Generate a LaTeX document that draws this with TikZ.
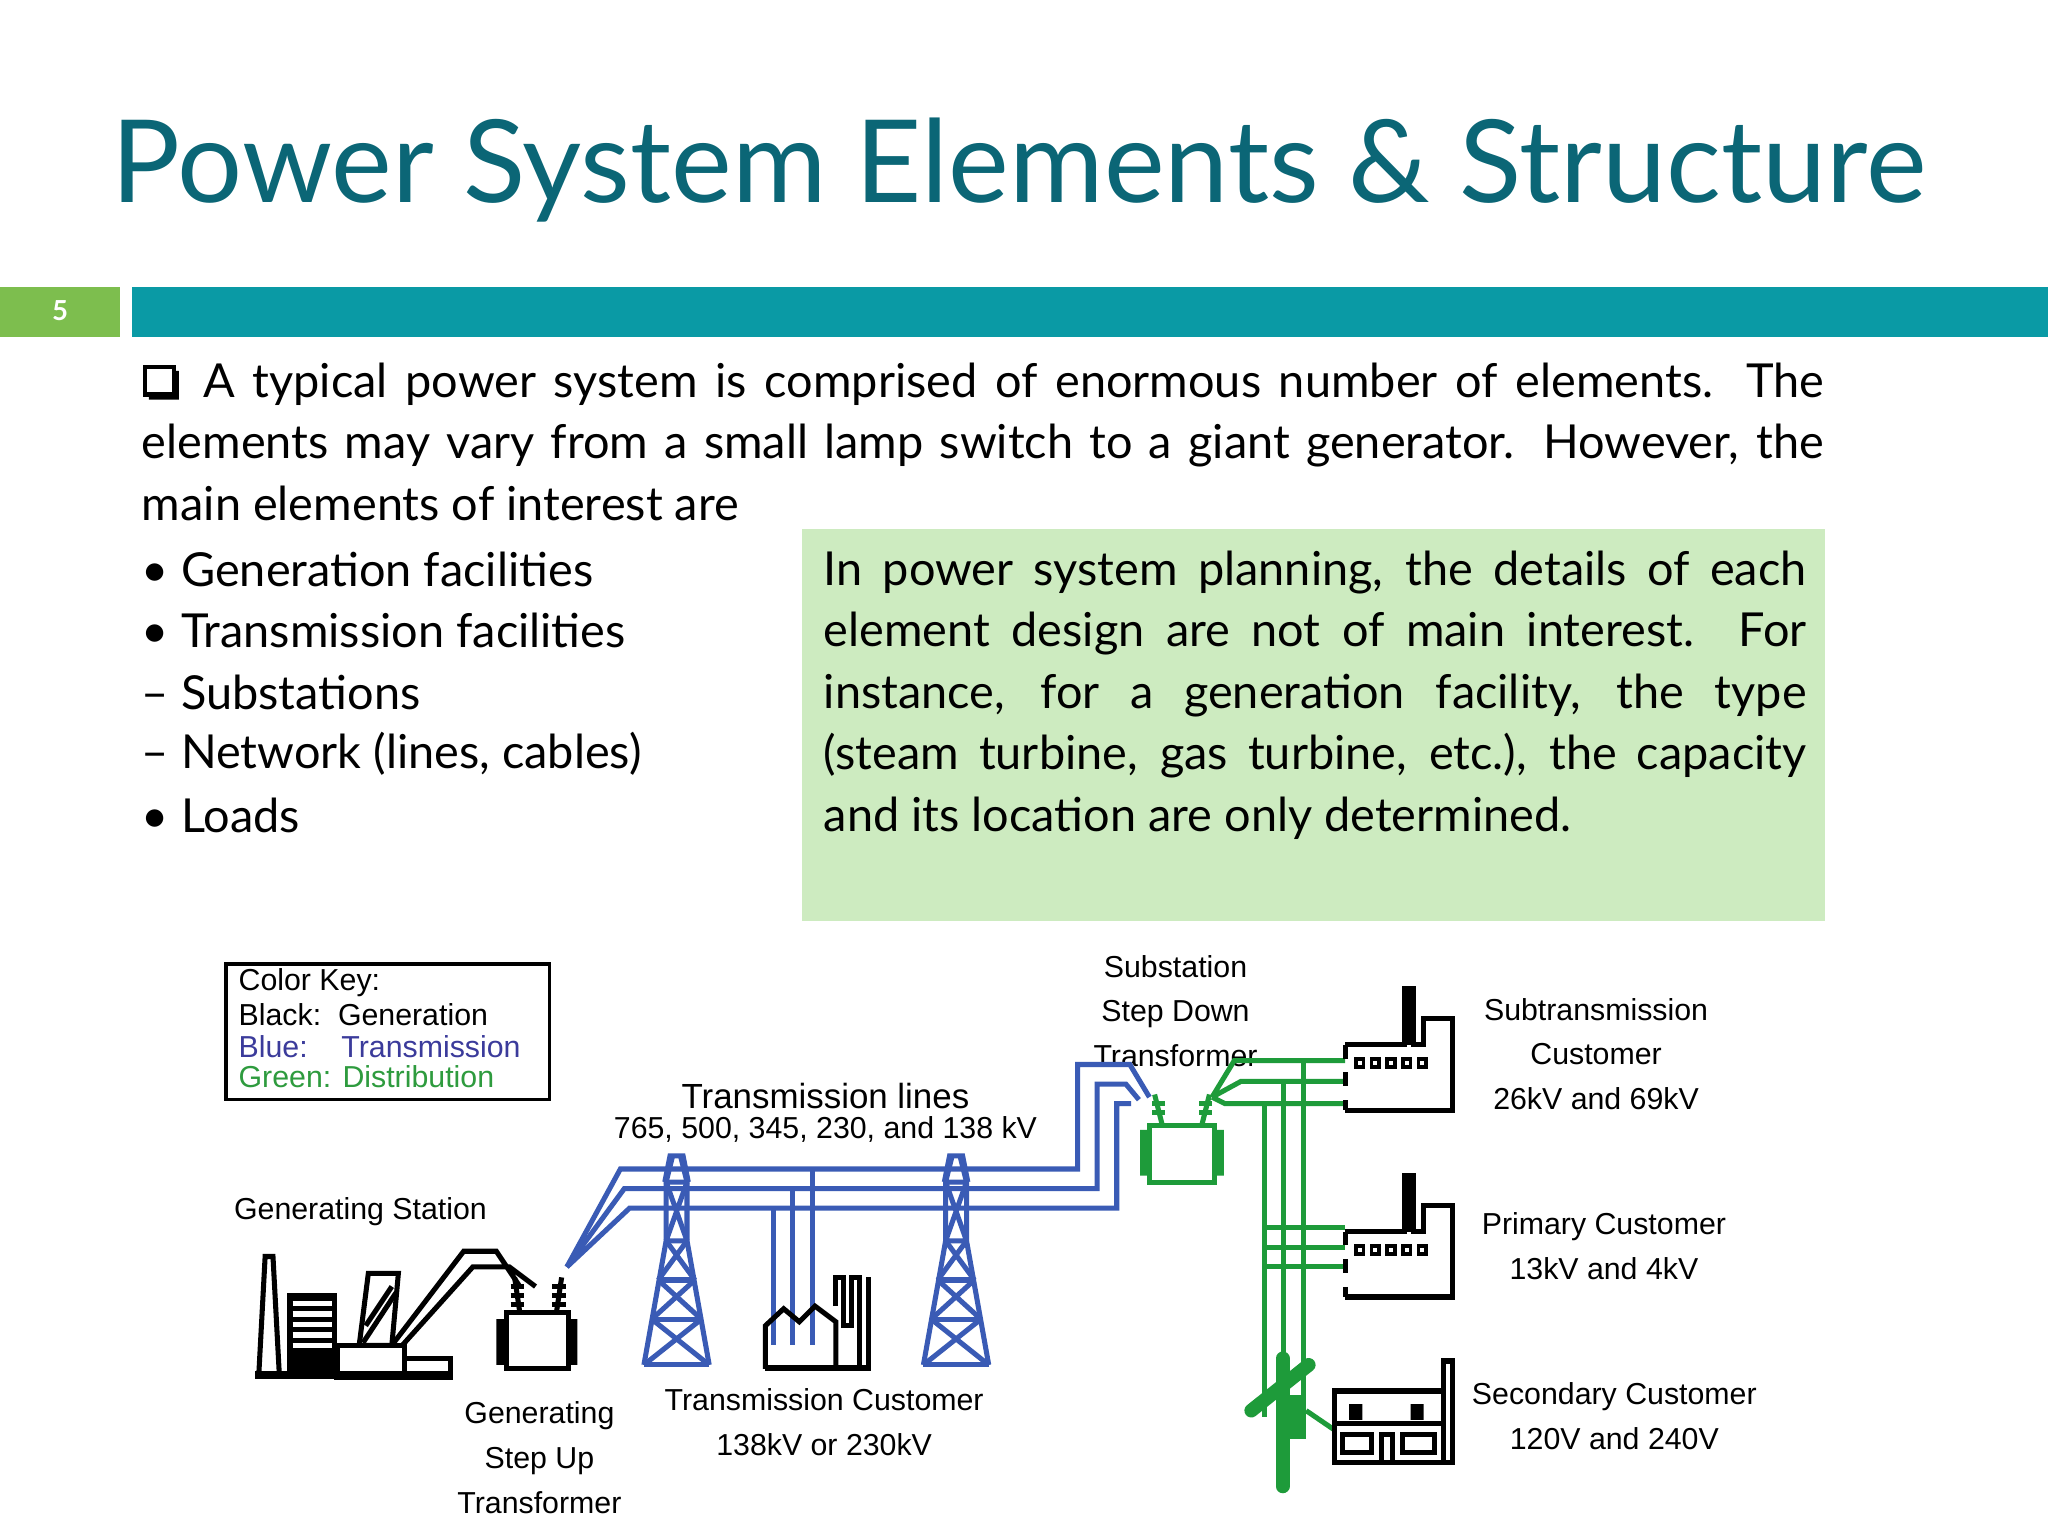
\documentclass[tikz,border=0pt]{standalone}
\usepackage{fontspec}
\setmainfont{Lato}
\newfontfamily\arialf{Liberation Sans}
\definecolor{ttl}{HTML}{0B6676}
\definecolor{bar}{HTML}{0A9AA5}
\definecolor{gbar}{HTML}{7DBE4E}
\definecolor{gbox}{HTML}{CDEBC0}
\definecolor{tb}{HTML}{3A5BB5}
\definecolor{tg}{HTML}{1E9B3A}
\definecolor{kb}{HTML}{3B3B9B}
\definecolor{kg}{HTML}{2E9B3E}
\tikzset{
 body/.style={anchor=west,inner sep=0pt,font=\fontsize{10.2}{13.4}\selectfont},
 lab/.style={inner sep=0pt,align=center,font=\arialf\fontsize{6.6}{6.9}\selectfont},
 bl/.style={draw=tb,line width=1.1pt},
 gl/.style={draw=tg,line width=1.1pt},
 kl/.style={draw=black,line width=1.1pt},
 tower/.pic={
  \draw[bl] (-3,0)--(-8,20)--(-8,65)--(-25,160) (3,0)--(8,20)--(8,65)--(25,160);
  \draw[bl] (-8,20)--(8,20) (-8,65)--(8,65) (-8,20)--(8,65) (8,20)--(-8,65);
  \draw[bl] (-14,95)--(14,95) (-19,125)--(19,125) (-25,160)--(25,160);
  \draw[bl] (-8,65)--(14,95) (8,65)--(-14,95) (-14,95)--(19,125) (14,95)--(-19,125)
   (-19,125)--(25,160) (19,125)--(-25,160);
  \draw[bl] (-9,20)--(-5,0)--(5,0)--(9,20);
 },
 factory/.pic={
  \draw[kl,fill=white] (0,0)--(45,0)--(45,-43)--(52,-43)--(52,0)--(60,0)--(60,-20)--(82,-20)--(82,50)--(0,50);
  \fill (45,0) rectangle (52,-43);
  \draw[kl,dashed] (0,0)--(0,50);
  \foreach \i in {0,...,4} \draw[line width=0.8pt] (8+\i*12,11) rectangle (14+\i*12,17);
 },
}
\begin{document}
\begin{tikzpicture}[x=0.01cm,y=-0.01cm]
\useasboundingbox (0,0) rectangle (1568,1176);
\fill[white] (0,0) rectangle (1568,1176);
% title
\node[text=ttl,font=\fontsize{25}{30}\selectfont,inner sep=0pt] (title) at (780,130) {Power System Elements \& Structure};
% bars
\fill[gbar] (0,220) rectangle (92,258);
\node[text=white,font=\bfseries\fontsize{6}{7}\selectfont] (num) at (46,238) {5};
\fill[bar] (101,220) rectangle (1568,258);
% checkbox
\draw[line width=0.9pt] (111,281) rectangle (133,302);
\fill (133,284) rectangle (137,306) (114,302) rectangle (137,306);
% paragraph
\node[body,anchor=north west,text width=12.87cm,align=justify] (para) at (108,277)
 {\hspace*{0.47cm}A typical power system is comprised of enormous number of elements. The\linebreak elements may vary from a small lamp switch to a giant generator. However, the\linebreak main elements of interest are};
\node[body] (b1) at (108,436) {\textbullet\ Generation facilities};
\node[body] (b2) at (108,483) {\textbullet\ Transmission facilities};
\node[body] (b3) at (108,530) {-- Substations};
\node[body] (b4) at (108,577) {-- Network (lines, cables)};
\node[body] (b5) at (108,624) {\textbullet\ Loads};
% green box
\fill[gbox] (614,405) rectangle (1397,705);
\node[body,anchor=north west,text width=7.52cm,align=justify] (gtext) at (630,421)
 {In power system planning, the details of each\linebreak element design are not of main interest. For\linebreak instance, for a generation facility, the type\linebreak (steam turbine, gas turbine, etc.), the capacity\linebreak and its location are only determined.};
% color key
\draw[line width=0.7pt] (173,738) rectangle (421,842);
\node[lab,anchor=west] (k1) at (182,752) {Color Key:};
\node[lab,anchor=west] (k2) at (182,777) {Black:\ \ Generation};
\node[lab,anchor=west,text=kb] (k3) at (182,801) {Blue:\ \ \ \ Transmission};
\node[lab,anchor=west,text=kg] (k4) at (182,824) {Green: Distribution};
% labels
\node[lab,font=\arialf\fontsize{7.6}{8}\selectfont] (tl) at (632,839) {Transmission lines};
\node[lab] (tlv) at (632,865) {765, 500, 345, 230, and 138 kV};
\node[lab] (ss) at (900,774) {Substation\\[0.1cm]Step Down\\[0.1cm]Transformer};
\node[lab] (gs) at (276,928) {Generating Station};
\node[lab] (gsu) at (413,1116) {Generating\\[0.1cm]Step Up\\[0.1cm]Transformer};
\node[lab] (tc) at (631,1089) {Transmission Customer\\[0.1cm]138kV or 230kV};
\node[lab] (stc) at (1222,807) {Subtransmission\\[0.1cm]Customer\\[0.1cm]26kV and 69kV};
\node[lab] (pc) at (1228,954) {Primary Customer\\[0.1cm]13kV and 4kV};
\node[lab] (sc) at (1236,1084) {Secondary Customer\\[0.1cm]120V and 240V};
% generating station
\draw[kl,fill=white] (198,1055)--(203,962)--(209,962)--(214,1055);
\fill (220,990) rectangle (258,1055);
\foreach \y in {998,1006,...,1030} \draw[white,line width=1.2pt] (224,\y)--(254,\y);
\draw[kl,fill=white] (275,1030)--(282,975)--(305,975)--(300,1030)--cycle;
\draw[kl] (280,1015)--(300,985) (278,1028)--(303,990);
\draw[kl,fill=white] (258,1030) rectangle (310,1055);
\draw[kl,fill=white] (310,1040) rectangle (345,1055);
\fill (195,1050) rectangle (345,1056);
\draw[kl] (300,1030)--(355,958)--(380,958)--(398,985) (308,1030)--(362,970)--(390,970)--(410,985);
% step up transformer
\draw[kl,fill=white] (388,1005) rectangle (435,1048);
\fill (380,1010) rectangle (388,1045) (435,1010) rectangle (442,1045);
\draw[kl] (398,1005)--(394,978) (426,1005)--(430,978);
\foreach \y in {985,992,999} {\draw[kl] (391,\y)--(401,\y); \draw[kl] (423,\y)--(433,\y);}
% blue lines
\coordinate (bs) at (434,970);
\draw[bl] (bs)--(475,895)--(825,895)--(825,815)--(865,815)--(880,840);
\draw[bl] (bs)--(478,910)--(840,910)--(840,830)--(862,830)--(872,842);
\draw[bl] (bs)--(482,925)--(855,925)--(855,845)--(866,845);
\pic at (518,885) {tower};
\pic at (732,885) {tower};
% transmission customer
\draw[bl] (592,925)--(592,1030) (607,910)--(607,1030) (622,895)--(622,1030);
\draw[kl] (586,1048)--(586,1015)--(600,1002)--(612,1012)--(624,1000)--(640,1012)--(640,1048);
\draw[kl] (640,1000)--(640,978)--(646,978)--(646,1015)--(652,1015)--(652,978)--(658,978)--(658,1048);
\fill (586,1045) rectangle (665,1050);
\draw[kl] (658,1048)--(665,1048)--(665,978);
% substation transformer
\draw[gl,fill=white] (880,862) rectangle (930,905);
\fill[tg] (873,865) rectangle (880,900) (930,865) rectangle (937,900);
\draw[gl] (890,862)--(884,838) (920,862)--(926,838);
\foreach \y in {845,852} {\draw[gl] (882,\y)--(892,\y); \draw[gl] (918,\y)--(928,\y);}
% green distribution
\coordinate (gs1) at (928,840);
\draw[gl] (gs1)--(945,812)--(1030,812);
\draw[gl] (gs1)--(950,828)--(1030,828);
\draw[gl] (gs1)--(938,845)--(1030,845);
\draw[gl] (998,812)--(998,1085) (983,828)--(983,1050) (968,845)--(968,1085);
\draw[gl] (968,940)--(1030,940) (968,955)--(1030,955) (968,970)--(1030,970);
% pole
\draw[tg,line width=3pt,line cap=round] (982,1040)--(982,1138);
\draw[tg,line width=3pt,line cap=round] (958,1080)--(1002,1045);
\fill[tg] (988,1068) rectangle (1000,1102);
\draw[gl] (1000,1080)--(1022,1095);
% customers
\pic at (1030,800) {factory};
\pic at (1030,943) {factory};
\draw[kl,fill=white] (1022,1065) rectangle (1105,1120);
\draw[kl] (1022,1090)--(1105,1090);
\draw[kl,fill=white] (1105,1120)--(1105,1042)--(1112,1042)--(1112,1120)--cycle;
\fill (1033,1075) rectangle (1043,1087) (1080,1075) rectangle (1090,1087);
\draw[kl] (1028,1098) rectangle (1050,1112) (1058,1098) rectangle (1066,1120) (1074,1098) rectangle (1098,1112);
\end{tikzpicture}
\end{document}
